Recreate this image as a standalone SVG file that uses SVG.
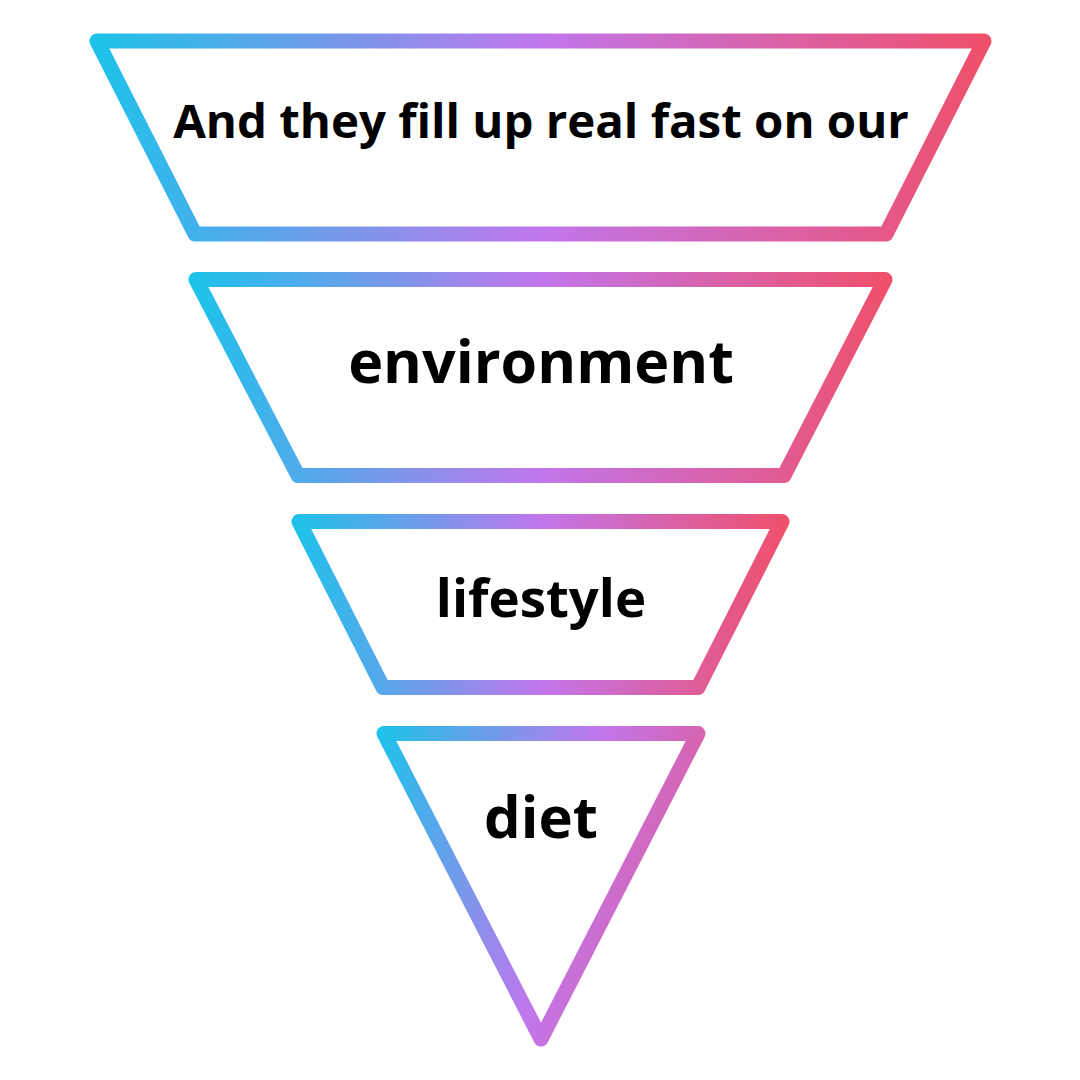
<svg xmlns="http://www.w3.org/2000/svg" width="1080" height="1080" viewBox="0 0 1080 1080">
  <defs>
    <linearGradient id="g1" gradientUnits="userSpaceOnUse" x1="90" y1="0" x2="991" y2="0">
      <stop offset="0" stop-color="#1BC3EB"/>
      <stop offset="0.5" stop-color="#C176EC"/>
      <stop offset="1" stop-color="#F04F69"/>
    </linearGradient>
    <linearGradient id="g2" gradientUnits="userSpaceOnUse" x1="189" y1="0" x2="892" y2="0">
      <stop offset="0" stop-color="#1BC3EB"/>
      <stop offset="0.5" stop-color="#C176EC"/>
      <stop offset="1" stop-color="#F04F69"/>
    </linearGradient>
    <linearGradient id="g3" gradientUnits="userSpaceOnUse" x1="292" y1="0" x2="789" y2="0">
      <stop offset="0" stop-color="#1BC3EB"/>
      <stop offset="0.5" stop-color="#C176EC"/>
      <stop offset="1" stop-color="#F04F69"/>
    </linearGradient>
    <linearGradient id="g4" gradientUnits="userSpaceOnUse" x1="380" y1="722" x2="800" y2="830">
      <stop offset="0" stop-color="#1BC3EB"/>
      <stop offset="0.5" stop-color="#C176EC"/>
      <stop offset="1" stop-color="#F04F69"/>
    </linearGradient>
  </defs>
  <style>
    .shape { fill: #FFFFFF; stroke-width: 15; stroke-linejoin: round; }
    .label { font-family: "Open Sans", "Noto Sans", "Liberation Sans", sans-serif; font-weight: 700; fill: #000000; text-anchor: middle; }
  </style>
  <rect width="1080" height="1080" fill="#FFFFFF"/>
  <g id="level1">
    <polygon class="shape" stroke="url(#g1)" points="97,41 984,41 886,234 195,234"/>
    <text class="label" x="541" y="138" font-size="47.4">And they fill up real fast on our</text>
  </g>
  <g id="level2">
    <polygon class="shape" stroke="url(#g2)" points="196,279.5 885,279.5 784,475.5 298,475.5"/>
    <text class="label" x="541" y="383" font-size="59.2">environment</text>
  </g>
  <g id="level3">
    <polygon class="shape" stroke="url(#g3)" points="299,521.5 782,521.5 698,687.5 383,687.5"/>
    <text class="label" x="541" y="617" font-size="52.8">lifestyle</text>
  </g>
  <g id="level4">
    <polygon class="shape" stroke="url(#g4)" points="384,733.5 698,733.5 541,1039"/>
    <text class="label" x="541" y="838" font-size="58">diet</text>
  </g>
</svg>
